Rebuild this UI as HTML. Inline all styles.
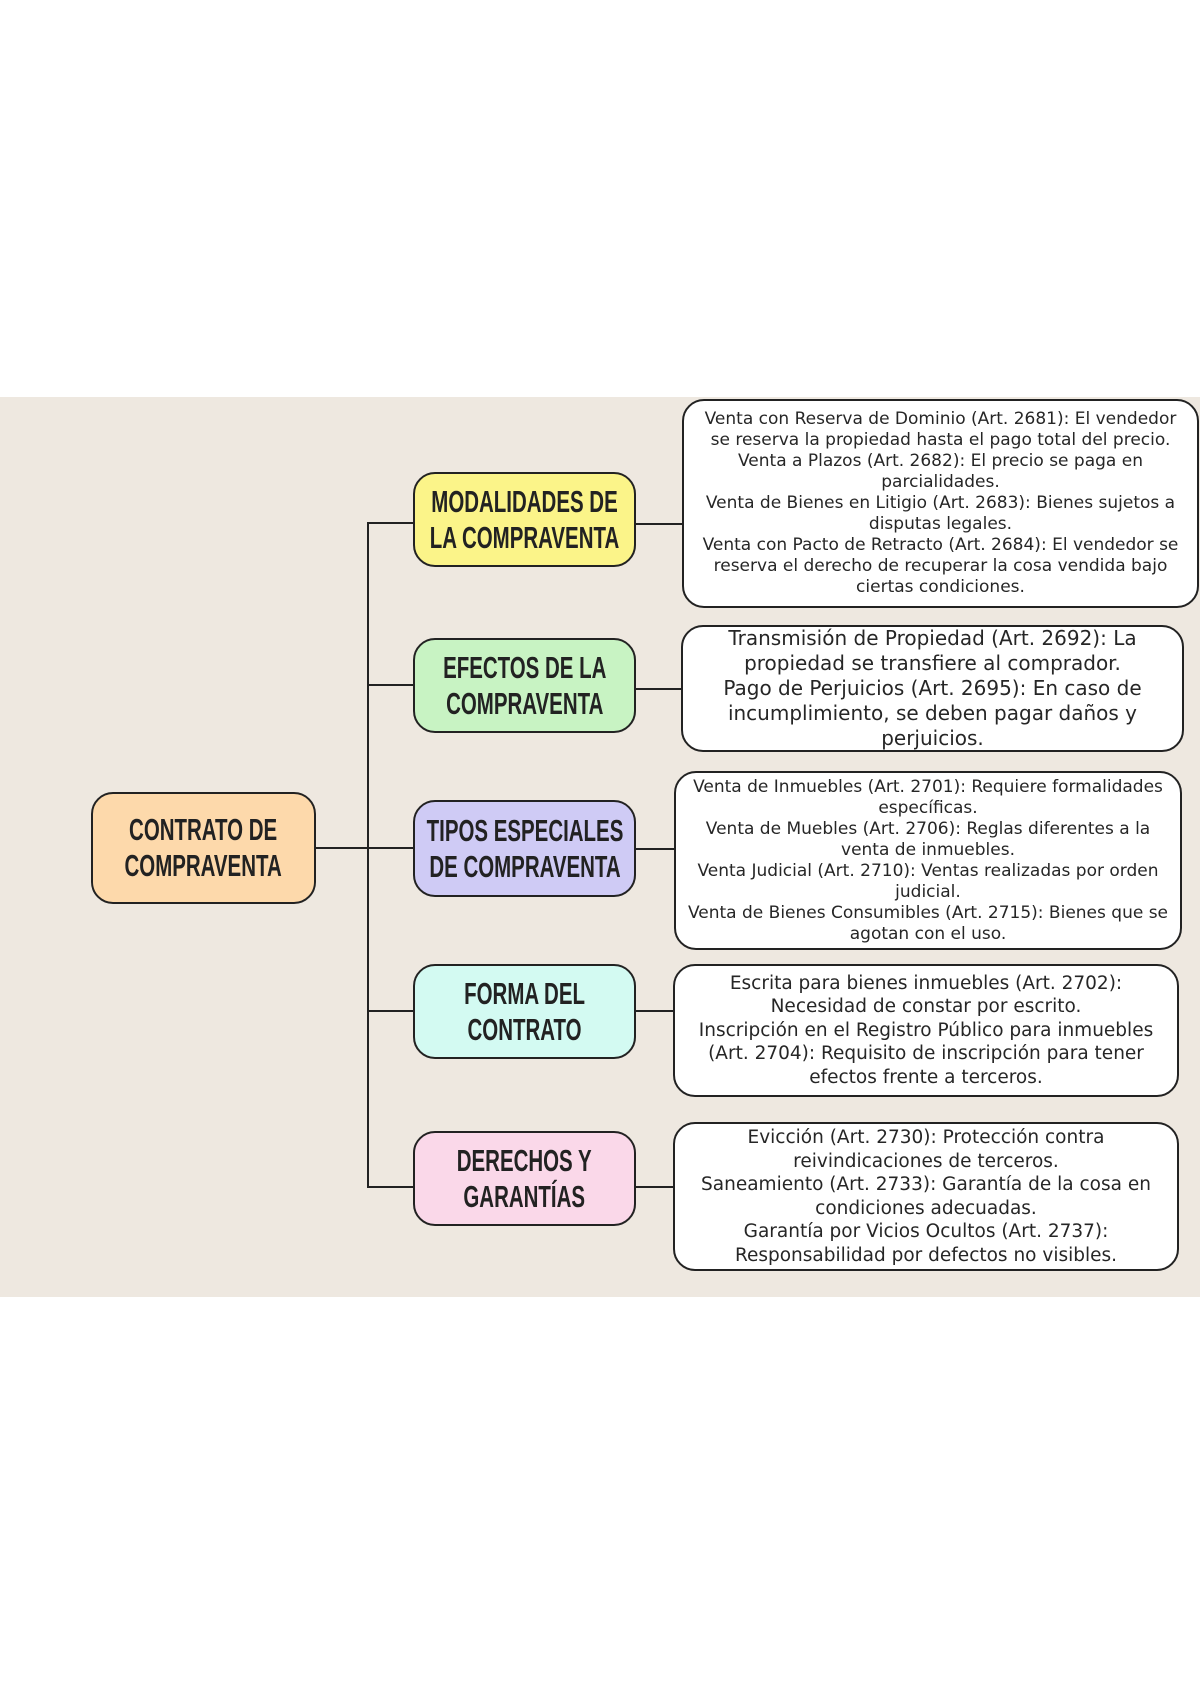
<!DOCTYPE html>
<html><head><meta charset="utf-8"><style>
body{margin:0;width:1200px;height:1698px;background:#fff;position:relative;overflow:hidden;font-family:"DejaVu Sans","Liberation Sans",sans-serif}
.band{position:absolute;left:0;top:397px;width:1200px;height:900px;background:#eee8e0}
.n{position:absolute;border:2px solid #222;border-radius:22px;box-sizing:border-box;display:flex;align-items:center;justify-content:center;text-align:center;font-family:"Liberation Sans Narrow","Liberation Sans",sans-serif;font-weight:bold;font-size:31px;line-height:36px;color:#222;white-space:nowrap}
.n span{display:inline-block;transform:scaleX(0.66)}
.b{position:absolute;border:2px solid #222;border-radius:22px;background:#fff;box-sizing:border-box;display:flex;align-items:center;justify-content:center;text-align:center;color:#262626;white-space:nowrap}
.l{position:absolute;background:#222}
</style></head><body>
<div class="band"></div>
<div class="l" style="left:316px;top:847px;width:52px;height:2px"></div>
<div class="l" style="left:367px;top:522px;width:2px;height:666px"></div>
<div class="l" style="left:367px;top:522px;width:46px;height:2px"></div>
<div class="l" style="left:367px;top:684px;width:46px;height:2px"></div>
<div class="l" style="left:367px;top:847px;width:46px;height:2px"></div>
<div class="l" style="left:367px;top:1010px;width:46px;height:2px"></div>
<div class="l" style="left:367px;top:1186px;width:46px;height:2px"></div>
<div class="l" style="left:636px;top:523px;width:46px;height:2px"></div>
<div class="l" style="left:636px;top:688px;width:45px;height:2px"></div>
<div class="l" style="left:636px;top:848px;width:38px;height:2px"></div>
<div class="l" style="left:636px;top:1010px;width:37px;height:2px"></div>
<div class="l" style="left:636px;top:1186px;width:37px;height:2px"></div>

<div class="n" style="left:91px;top:792px;width:225px;height:112px;background:#fdd9ab"><span>CONTRATO DE<br>COMPRAVENTA</span></div>
<div class="n" style="left:413px;top:472px;width:223px;height:95px;background:#fbf489"><span>MODALIDADES DE<br>LA COMPRAVENTA</span></div>
<div class="n" style="left:413px;top:638px;width:223px;height:95px;background:#c8f3c3"><span>EFECTOS DE LA<br>COMPRAVENTA</span></div>
<div class="n" style="left:413px;top:800px;width:223px;height:97px;background:#cfcbf5"><span>TIPOS ESPECIALES<br>DE COMPRAVENTA</span></div>
<div class="n" style="left:413px;top:964px;width:223px;height:95px;background:#d3faf2"><span>FORMA DEL<br>CONTRATO</span></div>
<div class="n" style="left:413px;top:1131px;width:223px;height:95px;background:#fad8e9"><span>DERECHOS Y<br>GARANTÍAS</span></div>

<div class="b" style="left:682px;top:399px;width:517px;height:209px;font-size:17px;line-height:21px">Venta con Reserva de Dominio (Art. 2681): El vendedor<br>se reserva la propiedad hasta el pago total del precio.<br>Venta a Plazos (Art. 2682): El precio se paga en<br>parcialidades.<br>Venta de Bienes en Litigio (Art. 2683): Bienes sujetos a<br>disputas legales.<br>Venta con Pacto de Retracto (Art. 2684): El vendedor se<br>reserva el derecho de recuperar la cosa vendida bajo<br>ciertas condiciones.</div>
<div class="b" style="left:681px;top:625px;width:503px;height:127px;font-size:20px;line-height:25px">Transmisión de Propiedad (Art. 2692): La<br>propiedad se transfiere al comprador.<br>Pago de Perjuicios (Art. 2695): En caso de<br>incumplimiento, se deben pagar daños y<br>perjuicios.</div>
<div class="b" style="left:674px;top:771px;width:508px;height:179px;font-size:17px;line-height:21px">Venta de Inmuebles (Art. 2701): Requiere formalidades<br>específicas.<br>Venta de Muebles (Art. 2706): Reglas diferentes a la<br>venta de inmuebles.<br>Venta Judicial (Art. 2710): Ventas realizadas por orden<br>judicial.<br>Venta de Bienes Consumibles (Art. 2715): Bienes que se<br>agotan con el uso.</div>
<div class="b" style="left:673px;top:964px;width:506px;height:133px;font-size:18.5px;line-height:23.5px">Escrita para bienes inmuebles (Art. 2702):<br>Necesidad de constar por escrito.<br>Inscripción en el Registro Público para inmuebles<br>(Art. 2704): Requisito de inscripción para tener<br>efectos frente a terceros.</div>
<div class="b" style="left:673px;top:1122px;width:506px;height:149px;font-size:18.5px;line-height:23.5px">Evicción (Art. 2730): Protección contra<br>reivindicaciones de terceros.<br>Saneamiento (Art. 2733): Garantía de la cosa en<br>condiciones adecuadas.<br>Garantía por Vicios Ocultos (Art. 2737):<br>Responsabilidad por defectos no visibles.</div>
</body></html>
